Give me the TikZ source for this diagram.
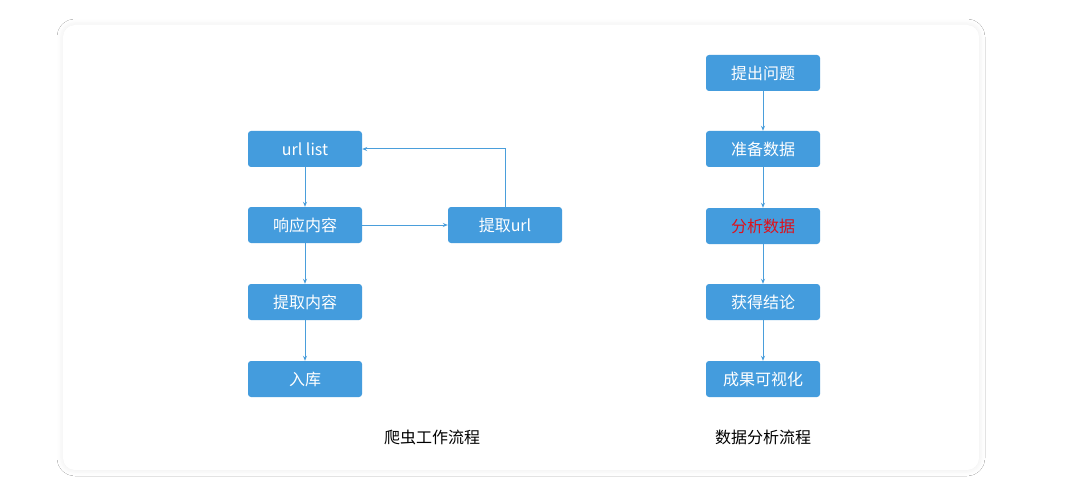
\documentclass[tikz,border=0pt]{standalone}
\usepackage{fontspec}
\setmainfont{Noto Sans CJK SC}
\usetikzlibrary{arrows.meta,shadows.blur}
\definecolor{boxblue}{HTML}{449CDD}
\definecolor{lineblue}{HTML}{4A9EDB}
\definecolor{redtxt}{HTML}{E0101A}
\begin{document}
\begin{tikzpicture}[x=1pt,y=-1pt,
  bx/.style={fill=boxblue,rounded corners=3pt,minimum width=114pt,minimum height=36pt,inner sep=0pt,text=white,font=\fontsize{16}{18}\selectfont},
  ar/.style={draw=lineblue,line width=1pt,-{Stealth[length=5pt,width=4pt]}},
  lbl/.style={font=\fontsize{16}{18}\selectfont,text=black}]
\useasboundingbox[fill=white] (0,0) rectangle (1074,500);
\fill[white,rounded corners=12pt,blur shadow={shadow blur steps=8,shadow xshift=0pt,shadow yshift=0pt,shadow blur radius=6pt,shadow opacity=8}] (63,25) rectangle (979,470);
\node[bx] (a) at (305,149) {url list};
\node[bx] (b) at (305,225) {响应内容};
\node[bx] (c) at (305,302) {提取内容};
\node[bx] (d) at (305,379) {入库};
\node[bx] (e) at (505,225) {提取url};
\draw[ar] (a) -- (b);
\draw[ar] (b) -- (c);
\draw[ar] (c) -- (d);
\draw[ar] (b) -- (e);
\draw[ar] (e.north) |- (a.east);
\node[bx] (p) at (763,73) {提出问题};
\node[bx] (q) at (763,149) {准备数据};
\node[bx,text=redtxt] (r) at (763,226) {分析数据};
\node[bx] (s) at (763,302) {获得结论};
\node[bx] (t) at (763,379) {成果可视化};
\draw[ar] (p) -- (q);
\draw[ar] (q) -- (r);
\draw[ar] (r) -- (s);
\draw[ar] (s) -- (t);
\node[lbl] (l1) at (432,437) {爬虫工作流程};
\node[lbl] (l2) at (763,437) {数据分析流程};
\end{tikzpicture}
\end{document}
